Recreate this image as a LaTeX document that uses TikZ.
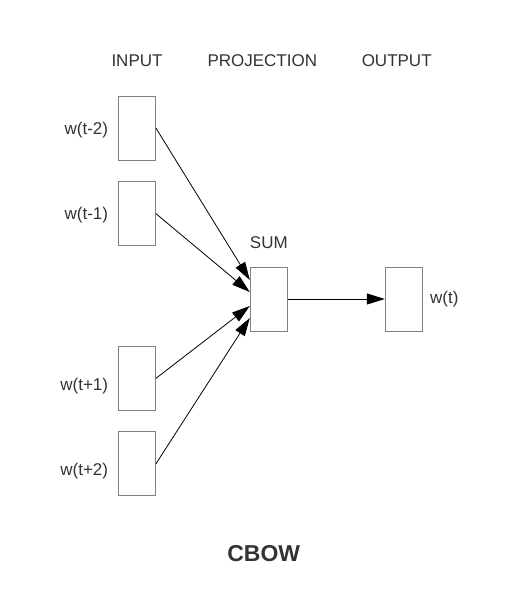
\documentclass[tikz,border=0pt]{standalone}
\usepackage{fontspec}
\setmainfont{Liberation Sans}
\usetikzlibrary{arrows.meta}
\definecolor{txtgray}{HTML}{333333}
\definecolor{boxgray}{HTML}{808080}
\begin{document}
\begin{tikzpicture}[x=1pt,y=-1pt,
        wordbox/.style={draw=boxgray, line width=1pt, minimum width=37pt, minimum height=64pt, inner sep=0pt},
        lbl/.style={txtgray, font={\fontsize{17}{20}\selectfont}, inner sep=0pt, anchor=base},
        link/.style={draw=black, line width=0.8pt, -{Triangle[length=18pt,width=11pt]}}]
        \useasboundingbox (0,0) rectangle (517,606);

        \node[lbl] (hin) at (137,66) {INPUT};
        \node[lbl] (hproj) at (262.3,66) {PROJECTION};
        \node[lbl] (hout) at (396.7,66) {OUTPUT};

        \node[wordbox] (in1) at (137,128.2) {};
        \node[wordbox] (in2) at (137,213.7) {};
        \node[wordbox] (in3) at (137,378.3) {};
        \node[wordbox] (in4) at (137,463.7) {};
        \node[lbl,anchor=base east] (w1) at (108.3,134) {w(t-2)};
        \node[lbl,anchor=base east] (w2) at (108.3,219) {w(t-1)};
        \node[lbl,anchor=base east] (w3) at (108.3,390) {w(t+1)};
        \node[lbl,anchor=base east] (w4) at (108.3,475) {w(t+2)};

        \node[wordbox] (sum) at (268.8,299) {};
        \node[lbl] (sumlbl) at (268.8,248) {SUM};

        \node[wordbox] (out) at (403.8,299) {};
        \node[lbl,anchor=base west] (wt) at (430,303) {w(t)};

        \draw[link] (in1.east) -- ([yshift=19pt]sum.west);
        \draw[link] (in2.east) -- ([yshift=7pt]sum.west);
        \draw[link] (in3.east) -- ([yshift=-7pt]sum.west);
        \draw[link] (in4.east) -- ([yshift=-19pt]sum.west);
        \draw[link] (sum.east) -- (out.west);

        \node[lbl,font={\fontsize{23}{28}\selectfont\bfseries}] (title) at (263.7,561) {CBOW};
\end{tikzpicture}
\end{document}
